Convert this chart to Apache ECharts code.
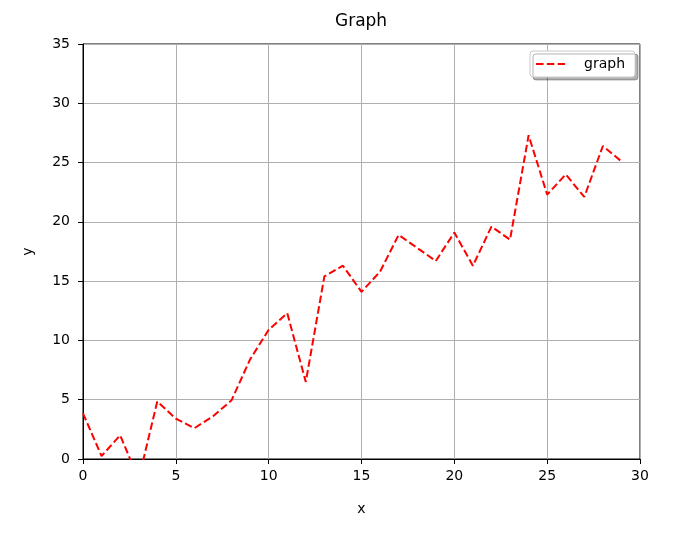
<!DOCTYPE html>
<html>
<head>
<meta charset="utf-8">
<script src="https://cdn.jsdelivr.net/npm/echarts@6/dist/echarts.min.js"></script>
<style>html,body{margin:0;padding:0;background:#fff}#c{width:687px;height:537px}</style>
</head>
<body>
<div id="c"></div>
<script>
const xValues = [0,1,2,3,4,5,6,7,8,9,10,11,12,13,14,15,16,17,18,19,20,21,22,23,24,25,26,27,28,29];
const yValues = [3.85,0.25,2.0,-1.7,4.85,3.4,2.6,3.6,4.95,8.4,10.9,12.3,6.5,15.4,16.3,14.1,15.8,18.9,17.8,16.7,19.1,16.3,19.6,18.5,27.3,22.3,24.0,22.1,26.4,25.1];
const seriesName = 'graph';
const titleText = 'Graph';
const xName = 'x';
const yName = 'y';

const font = 'DejaVu Sans';
const chart = echarts.init(document.getElementById('c'));
chart.setOption({
  animation: false,
  title: {text: titleText, left: 335, top: 13, padding: 0,
    textStyle: {fontFamily: font, fontSize: 17, fontWeight: 'normal', color: '#000'}},
  grid: {left: 83, right: 47, top: 44, bottom: 78, show: true, borderColor: '#000', borderWidth: 1},
  legend: {
    right: 52, top: 51, padding: [6, 10, 6, 5], itemWidth: 32, itemHeight: 10, itemGap: 6,
    backgroundColor: '#fff', borderColor: '#ccc', borderWidth: 1, borderRadius: 3,
    shadowBlur: 0, shadowColor: 'rgba(0,0,0,0.3)', shadowOffsetX: 3, shadowOffsetY: 3,
    itemStyle: {opacity: 0},
    lineStyle: {color: 'red', width: 2, type: [7.5, 3.3]},
    textStyle: {fontFamily: font, fontSize: 14, color: '#000', padding: [0, 0, 0, 11]}
  },
  xAxis: {
    type: 'value', min: 0, max: 30, interval: 5,
    name: xName, nameLocation: 'middle', nameGap: 43,
    nameTextStyle: {fontFamily: font, fontSize: 14, color: '#000'},
    axisLine: {onZero: false, lineStyle: {color: '#000'}},
    axisTick: {inside: false, length: 5, lineStyle: {color: '#000'}},
    axisLabel: {fontFamily: font, fontSize: 14, color: '#000', margin: 10},
    splitLine: {show: true, lineStyle: {color: '#b0b0b0', width: 1}}
  },
  yAxis: {
    type: 'value', min: 0, max: 35, interval: 5,
    name: yName, nameLocation: 'middle', nameGap: 48, nameRotate: 90,
    nameTextStyle: {fontFamily: font, fontSize: 14, color: '#000'},
    axisLine: {onZero: false, lineStyle: {color: '#000'}},
    axisTick: {inside: false, length: 5, lineStyle: {color: '#000'}},
    axisLabel: {fontFamily: font, fontSize: 14, color: '#000', margin: 13},
    splitLine: {show: true, lineStyle: {color: '#b0b0b0', width: 1}}
  },
  series: [{
    name: seriesName, type: 'line', symbol: 'none', clip: true,
    data: xValues.map((x, i) => [x, yValues[i]]),
    lineStyle: {color: 'red', width: 2, type: [7.5, 3.3]},
    itemStyle: {color: 'red'}
  }]
});
</script>
</body>
</html>
